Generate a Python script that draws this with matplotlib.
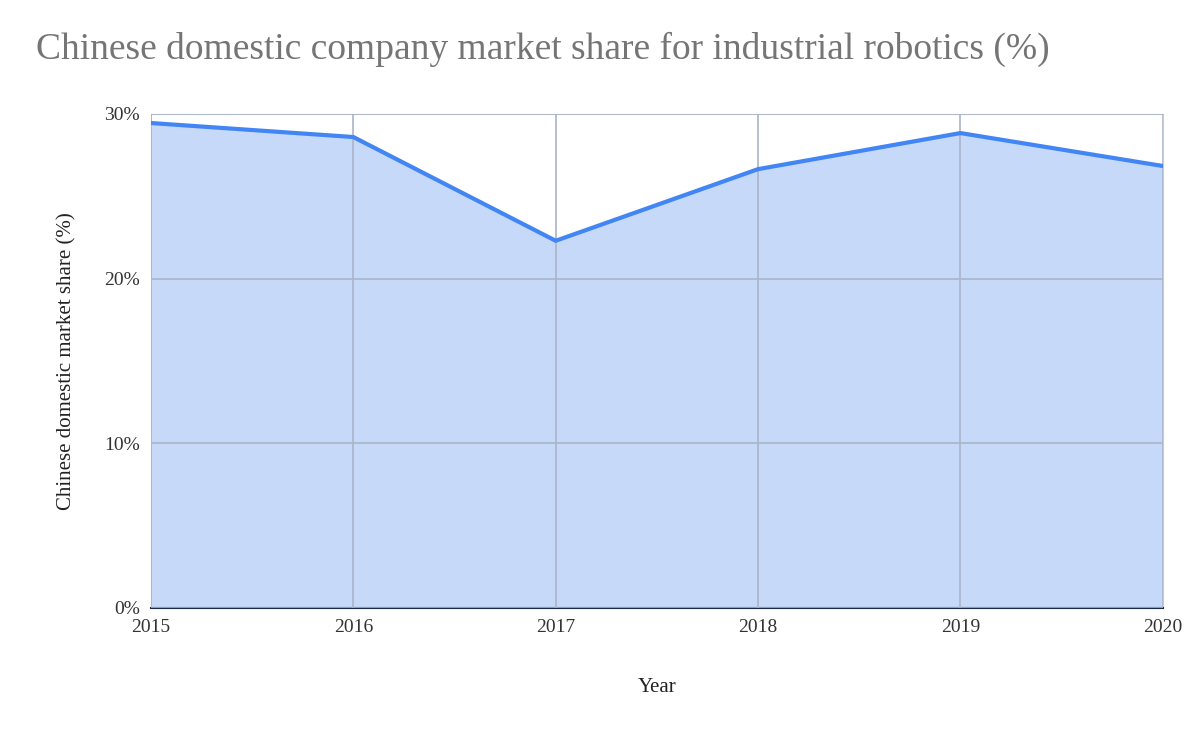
import matplotlib
matplotlib.use("Agg")
import matplotlib.pyplot as plt
from matplotlib.ticker import FuncFormatter

years = [2015, 2016, 2017, 2018, 2019, 2020]
share = [29.45, 28.6, 22.3, 26.65, 28.84, 26.84]
yticks = [0, 10, 20, 30]

plt.rcParams['font.family'] = ['Liberation Serif', 'DejaVu Serif']
fig = plt.figure(figsize=(12, 7.42), dpi=100)
ax = fig.add_axes([0.1258, 0.1806, 0.8432, 0.6658])
ax.fill_between(years, share, 0, color='#c6d9f9', zorder=1)
ax.plot(years, share, color='#4285f4', lw=3, zorder=3)
ax.set_xlim(2015, 2020)
ax.set_ylim(0, 30)
ax.set_yticks(yticks)
ax.set_xticks(years)
ax.yaxis.set_major_formatter(FuncFormatter(lambda v, p: f"{int(v)}%"))
ax.grid(True, color='#a9b4c8', lw=1.2, zorder=2)
ax.set_axisbelow(False)
for s in ['top', 'right', 'left']:
    ax.spines[s].set_color('#cccccc')
ax.spines['bottom'].set_color('#1a2a44')
ax.spines['bottom'].set_linewidth(1.5)
ax.tick_params(length=0, labelsize=14, colors='#333333', pad=8)
ax.set_xlabel('Year', fontsize=15, color='#222222', labelpad=30)
ax.set_ylabel('Chinese domestic market share (%)', fontsize=15, color='#222222', labelpad=20)
fig.text(0.03, 0.92, 'Chinese domestic company market share for industrial robotics (%)',
         fontsize=27, color='#757575')
fig.savefig('out.png', dpi=100)
